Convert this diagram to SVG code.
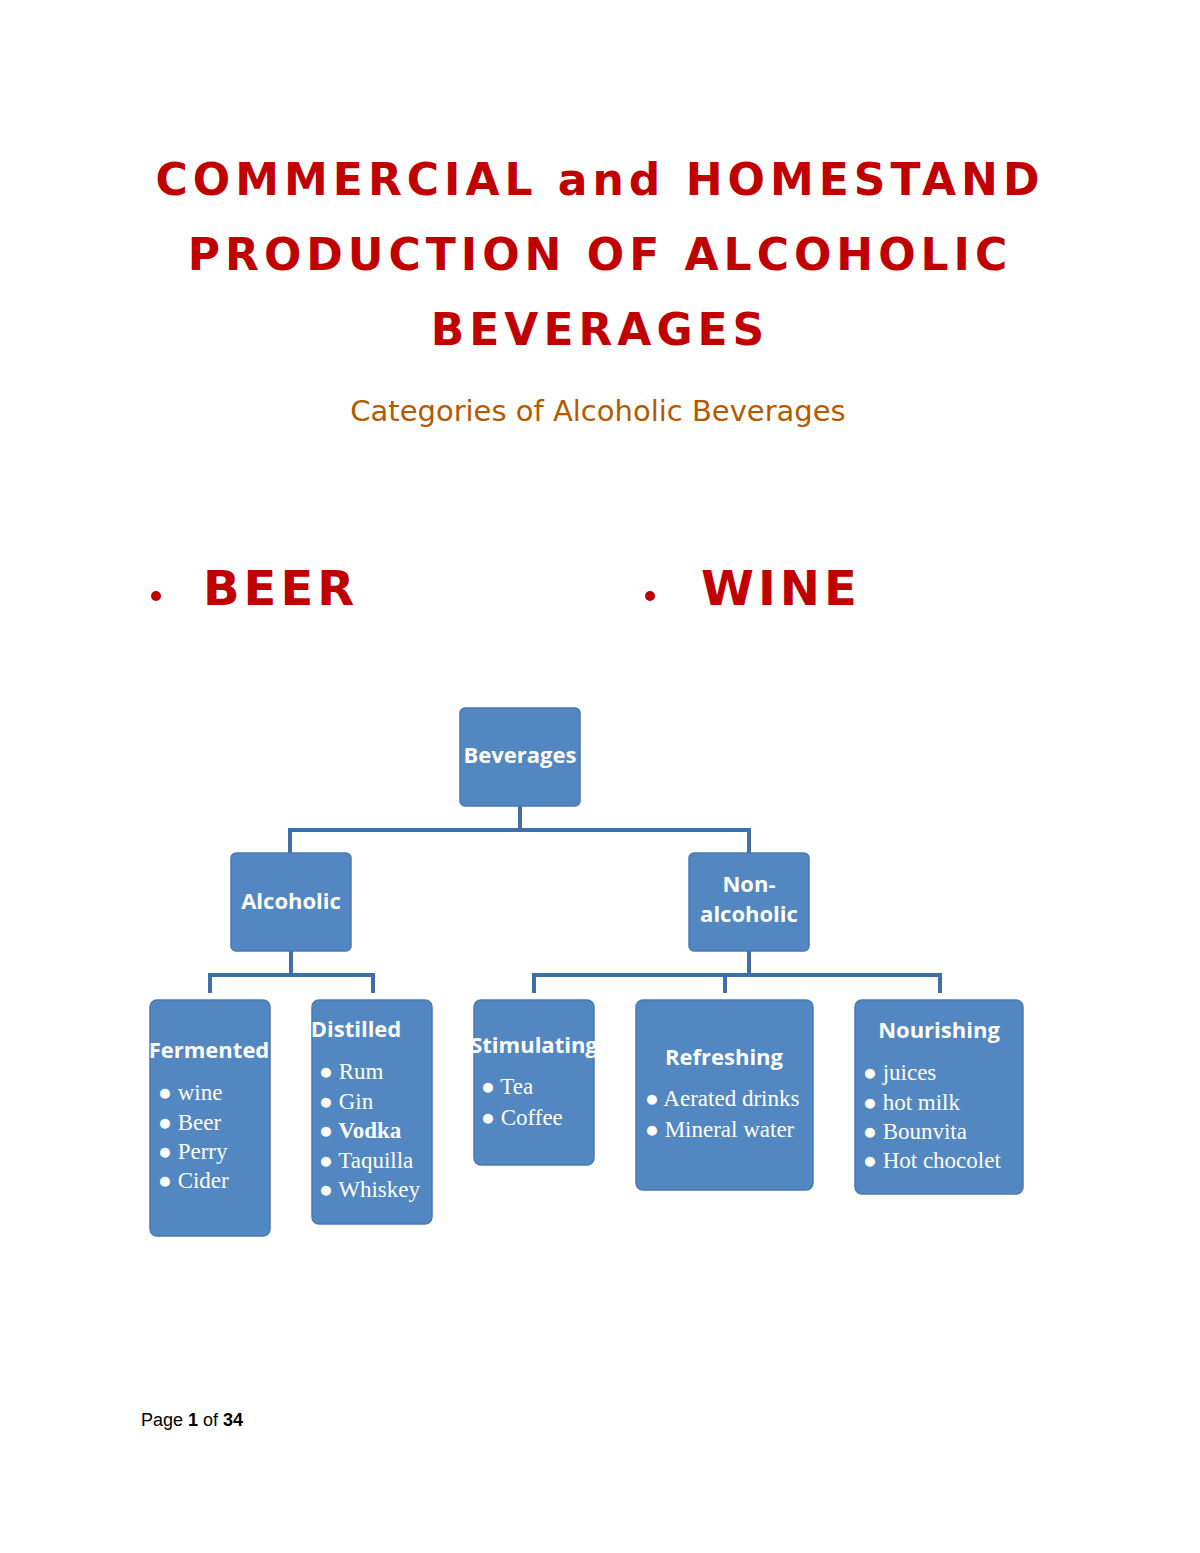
<svg xmlns="http://www.w3.org/2000/svg" width="1200" height="1553" viewBox="0 0 1200 1553">
<style>
.t{font-family:"DejaVu Sans",sans-serif;font-weight:bold;fill:#c00000;font-size:44px;letter-spacing:5px;text-anchor:middle}
.box{fill:#5287c1;stroke:#4a7ab0;stroke-width:1.5}
.h{font-family:"Liberation Sans Narrow","Open Sans",sans-serif;font-weight:bold;fill:#fff;font-size:22px;text-anchor:middle}
.i{font-family:"Liberation Serif",serif;fill:#fff;font-size:23px}
.c{fill:none;stroke:#3f6fa6;stroke-width:4}
</style>
<rect width="1200" height="1553" fill="#fff"/>
<text class="t" x="600" y="195">COMMERCIAL and HOMESTAND</text>
<text class="t" x="600" y="270">PRODUCTION OF ALCOHOLIC</text>
<text class="t" x="600" y="345">BEVERAGES</text>
<text x="598" y="421" font-family="DejaVu Sans,sans-serif" font-size="29" fill="#b35a00" text-anchor="middle">Categories of Alcoholic Beverages</text>
<circle cx="156" cy="596" r="5" fill="#c00000"/>
<text x="203" y="605" font-family="DejaVu Sans,sans-serif" font-weight="bold" font-size="48" fill="#c00000" letter-spacing="4">BEER</text>
<circle cx="650" cy="596" r="5" fill="#c00000"/>
<text x="701" y="605" font-family="DejaVu Sans,sans-serif" font-weight="bold" font-size="48" fill="#c00000" letter-spacing="4">WINE</text>
<g id="connectors">
<path class="c" d="M520 806V830M290 853V830H749V853M291 951V975M210 993V975H373V993M749 951V975M534 993V975H940V993M725 975V993"/>
</g>
<g id="beverages"><rect class="box" x="460" y="708" width="120" height="98" rx="5"/><text class="h" x="520" y="763">Beverages</text></g>
<g id="alcoholic"><rect class="box" x="231" y="853" width="120" height="98" rx="5"/><text class="h" x="291" y="909">Alcoholic</text></g>
<g id="nonalcoholic"><rect class="box" x="689" y="853" width="120" height="98" rx="5"/><text class="h" x="749" y="892">Non-</text><text class="h" x="749" y="922">alcoholic</text></g>
<g id="fermented"><rect class="box" x="150" y="1000" width="120" height="236" rx="7"/><text class="h" x="209" y="1058">Fermented</text>
<text class="i" x="158" y="1100">● wine</text><text class="i" x="158" y="1130">● Beer</text><text class="i" x="158" y="1159">● Perry</text><text class="i" x="158" y="1188">● Cider</text></g>
<g id="distilled"><rect class="box" x="312" y="1000" width="120" height="224" rx="7"/><text class="h" x="356" y="1037">Distilled</text>
<text class="i" x="319" y="1079">● Rum</text><text class="i" x="319" y="1109">● Gin</text><text class="i" x="319" y="1138" font-family="Liberation Sans,sans-serif" font-weight="bold" font-size="22">● Vodka</text><text class="i" x="319" y="1168">● Taquilla</text><text class="i" x="319" y="1197">● Whiskey</text></g>
<g id="stimulating"><rect class="box" x="474" y="1000" width="120" height="165" rx="7"/><text class="h" x="534" y="1053">Stimulating</text>
<text class="i" x="481" y="1094">● Tea</text><text class="i" x="481" y="1125">● Coffee</text></g>
<g id="refreshing"><rect class="box" x="636" y="1000" width="177" height="190" rx="7"/><text class="h" x="724" y="1065">Refreshing</text>
<text class="i" x="645" y="1106">● Aerated drinks</text><text class="i" x="645" y="1137">● Mineral water</text></g>
<g id="nourishing"><rect class="box" x="855" y="1000" width="168" height="194" rx="7"/><text class="h" x="939" y="1038">Nourishing</text>
<text class="i" x="863" y="1080">● juices</text><text class="i" x="863" y="1110">● hot milk</text><text class="i" x="863" y="1139">● Bounvita</text><text class="i" x="863" y="1168">● Hot chocolet</text></g>
<text x="141" y="1426" font-family="Liberation Sans,sans-serif" font-size="18" fill="#000">Page <tspan font-weight="bold">1</tspan> of <tspan font-weight="bold">34</tspan></text>
</svg>
